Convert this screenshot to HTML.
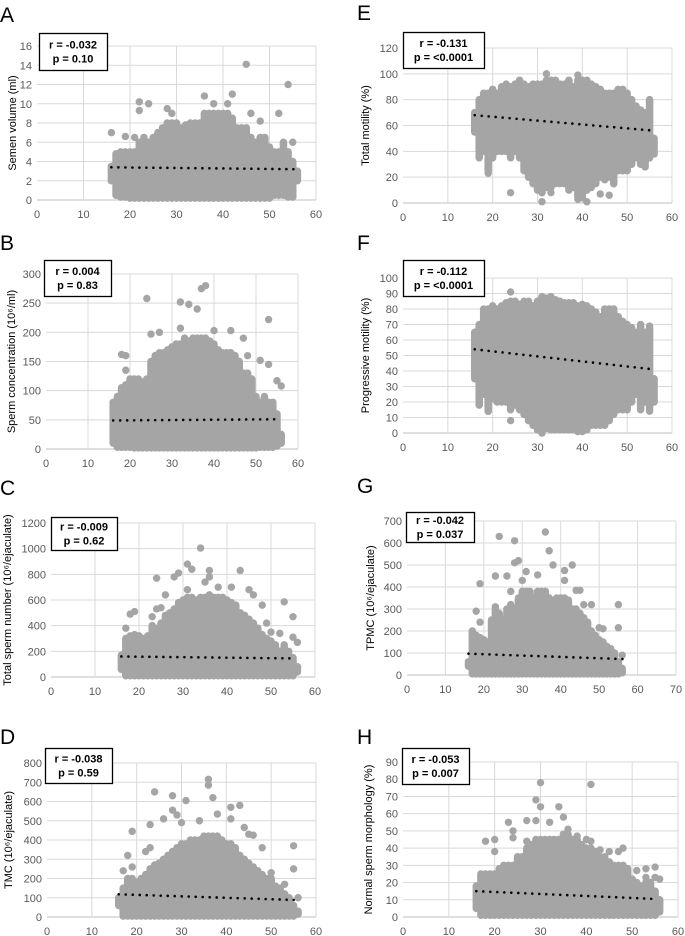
<!DOCTYPE html>
<html><head><meta charset="utf-8"><style>
html,body{margin:0;padding:0;background:#fff;}
svg{display:block;font-family:"Liberation Sans",sans-serif;}
</style></head><body>
<svg id="fig" width="685" height="936" viewBox="0 0 685 936"></svg>
<script>
const ages=[16,17,18,19,20,21,22,23,24,25,26,27,28,29,30,31,32,33,34,35,36,37,38,39,40,41,42,43,44,45,46,47,48,49,50,51,52,53,54,55,56];

const aLo=[2,0.5,0.3,0.3,0.2,0.2,0.2,0.2,0.2,0.2,0.2,0.2,0.2,0.2,0.2,0.2,0.2,0.2,0.2,0.2,0.2,0.2,0.2,0.2,0.2,0.2,0.2,0.2,0.2,0.2,0.2,0.2,0.2,0.2,0.2,0.5,0.5,0.5,0.3,0.3,2];
const aHi=[3.5,4.8,5,5,5,5,6,6.5,6,6.5,7,7.5,8,8,8,7.5,7.8,8,8,8,9,9,9,9,9,9,8.5,7.5,7.5,7.5,6.5,6,6.5,6.5,5.5,5,5,6,5,4,3];
const aOut=[[16,7],[22,10.2],[22,9.3],[24,10],[28,9.5],[29,9],[36,10.8],[38,10],[41,10],[42,11],[45,14.1],[46,9],[48,8.2],[52,9],[54,12],[55,6],[19,6.6],[21,6.5]];
const aTrend=[3.4,3.2];

const bLo=[10,3,3,3,3,2,2,2,2,2,2,2,2,2,2,2,2,2,2,2,2,2,2,2,2,2,2,2,2,2,2,2,2,2,2,3,3,3,3,5,10];
const bHi=[80,90,105,110,120,120,120,115,120,150,160,165,165,170,175,180,180,190,185,190,190,190,190,185,180,170,165,165,165,160,150,130,130,120,90,80,90,80,80,60,25];
const bOut=[[18,162],[19,160],[19,135],[24,258],[25,197],[27,200],[32,207],[32,252],[34,248],[36,240],[37,275],[38,280],[40,203],[44,203],[47,190],[48,160],[51,152],[53,222],[53,145],[55,117],[56,108]];
const bTrend=[49,51];

const cLo=[60,10,10,10,10,10,10,10,10,10,10,10,10,10,10,10,10,10,10,10,10,10,10,10,10,10,10,10,10,10,10,10,10,10,10,10,10,10,10,10,40];
const cHi=[170,300,320,330,320,300,320,400,380,420,480,500,530,580,600,620,620,600,620,620,640,620,620,620,600,580,560,500,480,450,420,380,330,300,280,250,200,250,200,150,80];
const cOut=[[17,380],[18,490],[19,510],[23,470],[24,770],[24,530],[25,540],[26,640],[28,780],[29,810],[31,880],[31,680],[32,840],[34,1005],[36,830],[36,780],[35,740],[38,700],[41,700],[43,830],[45,680],[46,640],[48,560],[49,420],[50,350],[52,340],[53,585],[55,470],[55,310],[56,270]];
const cTrend=[160,145];

const dLo=[60,5,5,5,5,5,5,5,5,5,5,5,5,5,5,5,5,5,5,5,5,5,5,5,5,5,5,5,5,5,5,5,5,5,5,5,5,5,5,5,15];
const dHi=[100,150,200,200,180,200,220,250,270,280,300,320,340,360,380,380,400,400,400,420,420,420,420,400,380,380,360,320,300,280,260,240,220,200,200,160,150,120,100,60,30];
const dOut=[[17,240],[18,320],[19,445],[19,260],[22,340],[23,480],[23,360],[24,650],[26,510],[28,630],[28,555],[29,530],[30,490],[31,605],[34,500],[36,715],[36,685],[37,620],[38,535],[41,570],[41,510],[43,580],[44,465],[45,430],[46,425],[48,360],[50,230],[53,170],[55,370],[55,250],[56,100]];
const dTrend=[118,88];

const eLo=[55,35,40,25,35,40,40,40,35,40,35,25,20,15,10,8,12,12,15,15,15,10,12,5,5,10,12,15,20,18,20,15,25,25,25,30,35,30,28,35,38];
const eHi=[70,80,85,85,88,85,90,92,90,92,95,92,90,92,92,92,95,95,95,92,92,95,90,95,95,95,92,90,88,85,85,85,88,88,85,80,75,72,70,80,50];
const eOut=[[24,8],[31,1],[33,8],[39,3],[40,4],[41,1],[44,7],[46,6],[47,15],[32,100],[39,99],[19,23],[55,78],[56,46],[56,38]];
const eTrend=[68,56];

const fLo=[35,18,25,14,22,20,20,20,15,18,15,12,8,5,2,0,3,2,2,2,2,2,2,1,1,2,5,5,5,5,8,12,15,15,15,20,25,15,20,15,20];
const fHi=[65,70,80,80,82,80,82,84,85,85,83,85,85,82,85,88,87,88,86,85,84,84,84,82,83,82,80,78,75,80,80,80,75,72,70,68,65,70,65,68,35];
const fOut=[[24,91],[24,8],[55,69],[56,21],[19,14],[17,19],[55,14]];
const fTrend=[54,41];

const gLo=[40,5,5,5,5,5,5,5,5,5,5,5,5,5,5,5,5,5,5,5,5,5,5,5,5,5,5,5,5,5,5,5,5,5,5,5,5,5,5,5,10];
const gHi=[60,200,180,170,160,150,250,300,280,250,300,320,300,350,380,380,380,350,380,380,380,350,340,350,350,350,340,300,300,280,260,240,200,180,160,150,130,120,100,60,30];
const gOut=[[18,290],[19,415],[19,240],[23,450],[23,310],[24,630],[26,450],[27,380],[28,610],[28,510],[29,520],[30,430],[31,470],[34,455],[36,650],[37,565],[38,500],[41,475],[41,430],[43,500],[44,385],[45,385],[46,320],[48,320],[50,215],[51,210],[55,320],[55,215],[56,90]];
const gTrend=[97,72];

const hLo=[5,1,1,1,1,1,1,1,1,1,1,1,1,1,1,1,1,1,1,1,1,1,1,1,1,1,1,1,1,1,1,1,1,1,1,1,1,1,1,1,3];
const hHi=[18,25,25,25,25,28,30,30,30,35,35,40,42,45,45,45,45,45,45,48,48,45,45,42,40,40,38,35,35,32,30,30,30,28,22,20,18,20,20,15,10];
const hOut=[[18,44],[20,45],[20,38],[23,55],[24,50],[24,46],[27,56],[27,44],[29,68],[29,56],[30,78],[30,64],[34,64],[35,58],[32,55],[36,51],[38,47],[40,45],[41,77],[41,44],[43,39],[45,38],[47,38],[48,40],[51,27],[53,28],[53,23],[55,29],[55,23],[56,22],[56,8]];
const hTrend=[15,10.5];

const panels=[
 {key:'a',letter:'A',lx:0,ly:22,px0:37,px1:316,xmax:60,pyT:46,pyB:200,ymax:16,ystep:2,box:[39,33,68,37],r:'r = -0.032',p:'p = 0.10',title:'Semen volume (ml)',tx:12,lo:aLo,hi:aHi,out:aOut,tr:aTrend,trEnd:56},
 {key:'b',letter:'B',lx:0,ly:250,px0:46,px1:298,xmax:60,pyT:274,pyB:449,ymax:300,ystep:50,box:[44,260,67,36],r:'r = 0.004',p:'p = 0.83',title:'Sperm concentration (10⁶/ml)',tx:11,lo:bLo,hi:bHi,out:bOut,tr:bTrend,trEnd:55},
 {key:'c',letter:'C',lx:0,ly:495,px0:51,px1:315,xmax:60,pyT:523,pyB:677,ymax:1200,ystep:200,box:[51,517,66,33],r:'r = -0.009',p:'p = 0.62',title:'Total sperm number (10⁶/ejaculate)',tx:7,lo:cLo,hi:cHi,out:cOut,tr:cTrend,trEnd:55},
 {key:'d',letter:'D',lx:0,ly:744,px0:47,px1:316,xmax:60,pyT:763,pyB:917,ymax:800,ystep:100,box:[45,748,67,35],r:'r = -0.038',p:'p = 0.59',title:'TMC (10⁶/ejaculate)',tx:8,lo:dLo,hi:dHi,out:dOut,tr:dTrend,trEnd:56},
 {key:'e',letter:'E',lx:357,ly:20,px0:403,px1:672,xmax:60,pyT:48,pyB:203,ymax:120,ystep:20,box:[403,32,81,36],r:'r = -0.131',p:'p = <0.0001',title:'Total motility (%)',tx:365,lo:eLo,hi:eHi,out:eOut,tr:eTrend,trEnd:56},
 {key:'f',letter:'F',lx:357,ly:250,px0:403,px1:672,xmax:60,pyT:278,pyB:433,ymax:100,ystep:10,box:[403,260,81,36],r:'r = -0.112',p:'p = <0.0001',title:'Progressive motility (%)',tx:365,lo:fLo,hi:fHi,out:fOut,tr:fTrend,trEnd:56},
 {key:'g',letter:'G',lx:357,ly:493,px0:407,px1:676,xmax:70,pyT:521,pyB:675,ymax:700,ystep:100,box:[406,512,68,30],r:'r = -0.042',p:'p = 0.037',title:'TPMC (10⁶/ejaculate)',tx:370,lo:gLo,hi:gHi,out:gOut,tr:gTrend,trEnd:57},
 {key:'h',letter:'H',lx:357,ly:744,px0:403,px1:678,xmax:60,pyT:762,pyB:917,ymax:90,ystep:10,box:[402,748,67,36],r:'r = -0.053',p:'p = 0.007',title:'Normal sperm morphology (%)',tx:368,lo:hLo,hi:hHi,out:hOut,tr:hTrend,trEnd:55}
];

const NS='http://www.w3.org/2000/svg';
const svg=document.getElementById('fig');
function mk(tag,attrs,parent){const e=document.createElementNS(NS,tag);for(const k in attrs)e.setAttribute(k,attrs[k]);parent.appendChild(e);return e;}

panels.forEach(P=>{
  const g=mk('g',{},svg);
  
  
  const sx=v=>P.px0+(P.px1-P.px0)*v/P.xmax;
  const sy=v=>P.pyB-(P.pyB-P.pyT)*v/P.ymax;
  const L=mk('text',{x:P.lx,y:P.ly,'font-size':21,fill:'#000'},g);L.textContent=P.letter;
  
  
  // gridlines + y ticks
  for(let v=0;v<=P.ymax+1e-9;v+=P.ystep){
    const y=sy(v);
    const ln=mk('line',{x1:P.px0,x2:P.px1,y1:y,y2:y,stroke:v===0?'#bfbfbf':'#d9d9d9','stroke-width':1},g);
    
    
    const t=mk('text',{x:P.px0-5,y:y+4,'font-size':11,fill:'#595959','text-anchor':'end'},g);
    t.textContent=String(Math.round(v*100)/100);
    
    
  }
  for(let v=0;v<=P.xmax;v+=10){
    const x=sx(v);
    if(v>0){const ln=mk('line',{x1:x,x2:x,y1:P.pyT,y2:P.pyB,stroke:'#d9d9d9','stroke-width':1},g);
    
    }
    const t=mk('text',{x:x,y:P.pyB+18,'font-size':11,fill:'#595959','text-anchor':'middle'},g);
    t.textContent=String(v);
    
    
  }
  // y title
  const cy=(P.pyT+P.pyB)/2;
  const yt=mk('text',{x:P.tx+4,y:cy,'font-size':11,fill:'#000','text-anchor':'middle',transform:`rotate(-90 ${P.tx+4} ${cy})`},g);
  yt.textContent=P.title;
  
  
  // dense core
  ages.forEach((a,i)=>{
    const c=mk('line',{x1:sx(a),x2:sx(a),y1:sy(P.lo[i]),y2:sy(P.hi[i]),stroke:'#a5a5a5','stroke-width':7.5,'stroke-linecap':'round'},g);
    
    
  });
  P.out.forEach(o=>{
    const c=mk('circle',{cx:sx(o[0]),cy:sy(o[1]),r:3.7,fill:'#a5a5a5'},g);
    
    
  });
  // trend
  const tl=mk('line',{x1:sx(16),y1:sy(P.tr[0]),x2:sx(P.trEnd),y2:sy(P.tr[1]),stroke:'#000','stroke-width':2.6,'stroke-linecap':'round','stroke-dasharray':'0 7'},g);
  
  
  // stats box
  const b=P.box;
  const r=mk('rect',{x:b[0]+0.5,y:b[1]+0.5,width:b[2],height:b[3],fill:'#fff',stroke:'#000','stroke-width':1.3},g);
  
  
  const mx=b[0]+b[2]/2;
  const t1=mk('text',{x:mx,y:b[1]+b[3]/2-3,'font-size':11,'font-weight':'bold','text-anchor':'middle',fill:'#000'},g);
  t1.textContent=P.r;
  
  
  const t2=mk('text',{x:mx,y:b[1]+b[3]/2+11,'font-size':11,'font-weight':'bold','text-anchor':'middle',fill:'#000'},g);
  t2.textContent=P.p;
  
  
});
</script>
</body></html>
